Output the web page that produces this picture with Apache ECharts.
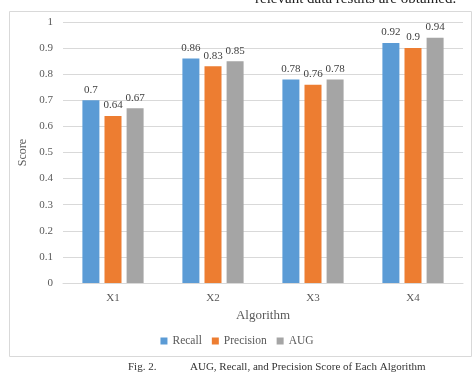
<!DOCTYPE html>
<html>
<head>
<meta charset="utf-8">
<script src="https://cdn.jsdelivr.net/npm/echarts@6/dist/echarts.min.js"></script>
<style>
  html, body { margin: 0; padding: 0; background: #fff; }
  #chart { width: 474px; height: 374px; }
</style>
</head>
<body>
<div id="chart"></div>
<script>
const categories = ["X1", "X2", "X3", "X4"];
const recall = [0.7, 0.86, 0.78, 0.92];
const precision = [0.64, 0.83, 0.76, 0.9];
const aug = [0.67, 0.85, 0.78, 0.94];

const serif = "Liberation Serif";
const chart = echarts.init(document.getElementById("chart"));

const labelStyle = {
  show: true,
  position: "top",
  distance: 5,
  fontFamily: serif,
  fontSize: 11,
  color: "#404040",
};

const option = {
  animation: false,
  graphic: [
    {
      type: "rect",
      shape: { x: 9.5, y: 11.5, width: 462, height: 345 },
      style: { fill: "none", stroke: "#d9d9d9", lineWidth: 1 },
    },
    {
      type: "text",
      left: 255,
      top: -8,
      style: {
        text: "relevant data results are obtained.",
        font: "15px " + serif,
        fill: "#222",
      },
    },
    {
      type: "text",
      left: 128,
      top: 362,
      style: { text: "Fig. 2.", font: "11px " + serif, fill: "#333" },
    },
    {
      type: "text",
      left: 190,
      top: 362,
      style: {
        text: "AUG, Recall, and Precision Score of Each Algorithm",
        font: "11px " + serif,
        fill: "#333",
      },
    },
  ],
  grid: { left: 63, right: 11, top: 22, bottom: 91 },
  legend: {
    bottom: 22,
    left: "center",
    itemWidth: 7,
    itemHeight: 7,
    itemGap: 10,
    icon: "rect",
    textStyle: { fontFamily: serif, fontSize: 11.5, color: "#595959" },
    data: ["Recall", "Precision", "AUG"],
  },
  xAxis: {
    type: "category",
    data: categories,
    name: "Algorithm",
    nameLocation: "middle",
    nameGap: 25,
    nameTextStyle: { fontFamily: serif, fontSize: 13, color: "#595959" },
    axisLine: { lineStyle: { color: "#d9d9d9" } },
    axisTick: { show: false },
    axisLabel: { fontFamily: serif, fontSize: 11, color: "#595959", margin: 10 },
  },
  yAxis: {
    type: "value",
    min: 0,
    max: 1,
    interval: 0.1,
    name: "Score",
    nameLocation: "middle",
    nameGap: 33,
    nameTextStyle: { fontFamily: serif, fontSize: 12, color: "#595959" },
    axisLine: { show: false },
    axisTick: { show: false },
    axisLabel: { fontFamily: serif, fontSize: 11, color: "#595959", margin: 10 },
    splitLine: { lineStyle: { color: "#d9d9d9" } },
  },
  series: [
    {
      name: "Recall",
      type: "bar",
      data: recall,
      barWidth: 17,
      barGap: "30%",
      itemStyle: { color: "#5B9BD5" },
      label: labelStyle,
    },
    {
      name: "Precision",
      type: "bar",
      data: precision,
      barWidth: 17,
      barGap: "30%",
      itemStyle: { color: "#ED7D31" },
      label: labelStyle,
    },
    {
      name: "AUG",
      type: "bar",
      data: aug,
      barWidth: 17,
      barGap: "30%",
      itemStyle: { color: "#A5A5A5" },
      label: labelStyle,
    },
  ],
};

chart.setOption(option);
</script>
</body>
</html>
